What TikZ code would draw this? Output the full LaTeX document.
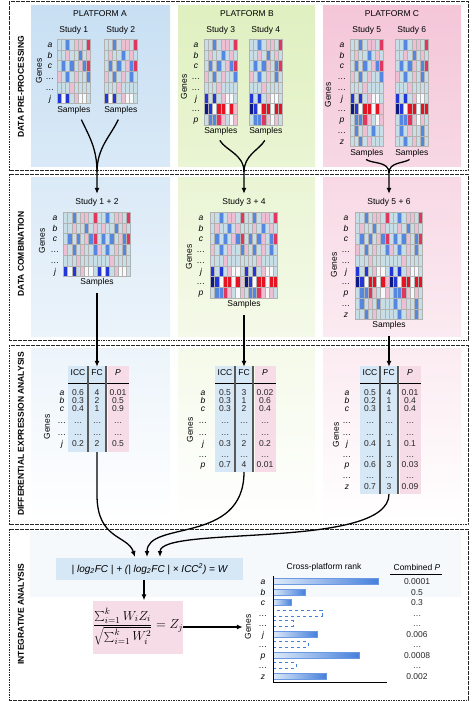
\documentclass[tikz,border=0pt]{standalone}
\usepackage{fix-cm}
\usepackage{fontspec}
\setmainfont{Liberation Sans}
\usetikzlibrary{arrows.meta}

\definecolor{platA}{RGB}{200,223,243}
\definecolor{platB}{RGB}{224,240,192}
\definecolor{platC}{RGB}{244,198,216}
\definecolor{secbg}{RGB}{246,249,252}
\definecolor{hmg}{RGB}{200,222,230}
\definecolor{hmp}{RGB}{238,190,210}
\definecolor{hmw}{RGB}{246,248,250}
\definecolor{hmb}{RGB}{85,135,225}
\definecolor{hmr}{RGB}{225,55,95}
\definecolor{hmB}{RGB}{35,55,215}
\definecolor{hmR}{RGB}{230,20,35}
\definecolor{hmN}{RGB}{15,25,130}
\definecolor{colblue}{RGB}{214,231,246}
\definecolor{colpink}{RGB}{246,220,230}
\definecolor{barblue}{RGB}{70,128,220}
\definecolor{barlight}{RGB}{222,234,248}

% heat map: left x, top y, rows
\newcommand{\hmap}[3]{%
  \foreach \hrow [count=\hr from 0] in #3 {
    \foreach \hc [count=\hk from 0] in \hrow {
      \filldraw[cell,fill=hm\hc] ({#1+\hk*4.2},{#2+\hr*10.75}) rectangle ++(4.2,10.75);
    }
  }
}
% gene letters beside a heat map: name, x, top y, list
\newcommand{\glab}[4]{%
  \foreach \glt [count=\gi from 0] in {#4} {
    \node[gl] (#1\gi) at (#2,{#3+(\gi+0.5)*10.75+3}) {\glt};
  }
}
% table: FC column x, letter x, bottom y, rows, name
\newcommand{\detable}[5]{%
  \fill[colblue] ({#1-29},366) rectangle ({#1+9},#3);
  \fill[colpink] ({#1+11},366) rectangle ({#1+32},#3);
  \node[lbl] (#5icc) at ({#1-19},373) {ICC};
  \node[lbl] (#5fc) at (#1,373) {FC};
  \node[lbl,font=\fontsize{8.5}{10}\selectfont\itshape] (#5p) at ({#1+21},373) {P};
  \draw[line width=0.8pt] ({#1-29},383.5) -- ({#1+32},383.5);
  \draw[colline] ({#1-9},366) -- ({#1-9},#3);
  \draw[colline] ({#1+9},366) -- ({#1+9},#3);
  \coordinate (#5bot) at (#1,#3);
  \foreach \ty/\tg/\ti/\tf/\tp [count=\tn] in {#4} {
    \node[gl] (#5g\tn) at (#2,\ty) {\tg};
    \node[val] (#5i\tn) at ({#1-19},\ty) {\ti};
    \node[val] (#5f\tn) at (#1,\ty) {\tf};
    \node[val] (#5v\tn) at ({#1+21},\ty) {\tp};
  }
}

\begin{document}
\begin{tikzpicture}[
  x=1pt,y=-1pt,
  lbl/.style={font=\fontsize{8.5}{10}\selectfont,inner sep=0pt},
  sect/.style={font=\fontsize{8.5}{10}\selectfont\bfseries,rotate=90,inner sep=0pt},
  genes/.style={lbl,rotate=90},
  gl/.style={lbl,font=\fontsize{8.5}{10}\selectfont\itshape,anchor=base},
  val/.style={lbl,anchor=base,text=black!85},
  cell/.style={draw=black!30,line width=0.3pt},
  secbox/.style={draw=black!85,line width=0.9pt,dash pattern=on 1.6pt off 0.9pt},
  conn/.style={line width=1.3pt},
  arr/.style={conn,-{Latex[length=6pt,width=5pt]}},
  colline/.style={draw=black!65,line width=1.1pt},
  sbar/.style={left color=barlight,right color=barblue,draw=barblue!80,line width=0.3pt},
  dbar/.style={draw=barblue,dashed,line width=0.5pt}
]
  \useasboundingbox (0,0) rectangle (474,701);

  % heat map patterns
  \def\patOne{{g,g,b,g,p,p,g,r},{g,g,p,g,g,b,g,p},{g,b,g,b,g,p,b,r},{p,g,b,g,p,g,g,b},{g,g,g,p,g,g,g,g},{B,w,B,g,p,w,w,g}}
  \def\patTwo{{g,g,b,g,p,p,g,r},{g,p,g,g,b,g,p,g},{g,b,g,b,g,p,b,r},{p,g,b,g,p,g,b,g},{g,g,g,p,g,g,g,g},{B,w,B,g,p,w,w,g}}
  \def\patThree{{g,g,b,g,p,p,g,r},{g,p,g,g,b,g,p,g},{g,b,g,b,g,p,b,r},{p,g,b,g,p,g,g,b},{g,g,g,p,g,g,g,g},{B,g,B,g,p,w,w,g},{N,B,w,R,R,w,R,p},{g,b,b,r,p,g,w,p}}
  \def\patFour{{g,g,b,g,p,p,g,r},{g,g,p,g,b,g,p,g},{g,b,g,b,p,g,b,r},{p,g,b,g,p,g,b,g},{g,g,g,p,g,g,g,g},{B,g,B,g,p,w,w,g},{N,B,w,R,R,w,R,R},{g,b,b,r,p,w,p,g}}
  \def\patFive{{g,g,b,g,p,p,g,r},{g,p,g,g,b,g,p,g},{g,b,g,b,g,p,b,r},{p,g,b,g,p,g,g,b},{g,g,g,p,g,g,g,g},{B,g,B,g,p,w,w,g},{N,B,w,R,R,w,R,p},{g,b,b,r,p,g,w,p},{g,b,g,p,g,b,g,g},{g,g,b,g,p,g,g,g}}
  \def\patSix{{g,g,b,g,p,p,g,r},{g,g,p,g,b,g,p,g},{g,b,g,b,p,g,b,r},{p,g,b,g,p,g,b,g},{g,g,g,p,g,g,g,g},{B,g,B,g,p,w,w,g},{N,B,w,R,R,w,R,R},{g,b,b,r,p,w,p,g},{g,b,g,p,g,g,b,g},{g,g,b,g,p,g,b,g}}
  \def\patOneTwo{{g,g,b,g,p,p,g,r,g,g,b,g,p,p,g,r},{g,g,p,g,g,b,g,p,g,p,g,g,b,g,p,g},{g,b,g,b,g,p,b,r,g,b,g,b,g,p,b,r},{p,g,b,g,p,g,g,b,p,g,b,g,p,g,b,g},{g,g,g,p,g,g,g,g,g,g,g,p,g,g,g,g},{B,w,B,g,p,w,w,g,B,w,B,g,p,w,w,g}}
  \def\patThreeFour{{g,g,b,g,p,p,g,r,g,g,b,g,p,p,g,r},{g,p,g,g,b,g,p,g,g,g,p,g,b,g,p,g},{g,b,g,b,g,p,b,r,g,b,g,b,p,g,b,r},{p,g,b,g,p,g,g,b,p,g,b,g,p,g,b,g},{g,g,g,p,g,g,g,g,g,g,g,p,g,g,g,g},{B,g,B,g,p,w,w,g,B,g,B,g,p,w,w,g},{N,B,w,R,R,w,R,p,N,B,w,R,R,w,R,R},{g,b,b,r,p,g,w,p,g,b,b,r,p,w,p,g}}
  \def\patFiveSix{{g,g,b,g,p,p,g,r,g,g,b,g,p,p,g,r},{g,p,g,g,b,g,p,g,g,g,p,g,b,g,p,g},{g,b,g,b,g,p,b,r,g,b,g,b,p,g,b,r},{p,g,b,g,p,g,g,b,p,g,b,g,p,g,b,g},{g,g,g,p,g,g,g,g,g,g,g,p,g,g,g,g},{B,g,B,g,p,w,w,g,B,g,B,g,p,w,w,g},{N,B,w,R,R,w,R,p,N,B,w,R,R,w,R,R},{g,b,b,r,p,g,w,p,g,b,b,r,p,w,p,g},{g,b,g,p,g,b,g,g,g,b,g,p,g,g,b,g},{g,g,b,g,p,g,g,g,g,g,b,g,p,g,b,g}}

  % platform columns
  \shade[top color=platA,middle color=platA!55,bottom color=white] (31,6) rectangle (170,522);
  \shade[top color=platB,middle color=platB!55,bottom color=white] (178,6) rectangle (315,522);
  \shade[top color=platC,middle color=platC!55,bottom color=white] (323,6) rectangle (461,522);
  \fill[white] (25,167) rectangle (465,177);
  \fill[white] (25,337) rectangle (465,348);
  \fill[secbg] (30,531) rectangle (461,597);

  % sections
  \draw[secbox] (9,1) rectangle (468,170);
  \draw[secbox] (9,174) rectangle (468,340);
  \draw[secbox] (9,345) rectangle (468,524);
  \draw[secbox] (9,529) rectangle (468,700);
  \node[sect] (secPre) at (21,87) {DATA PRE-PROCESSING};
  \node[sect] (secComb) at (21,254) {DATA COMBINATION};
  \node[sect] (secDE) at (21,434) {DIFFERENTIAL EXPRESSION ANALYSIS};
  \node[sect] (secInt) at (21,614) {INTEGRATIVE ANALYSIS};

  \node[lbl] (platA) at (100,14) {PLATFORM A};
  \node[lbl] (platB) at (247,14) {PLATFORM B};
  \node[lbl] (platC) at (392,14) {PLATFORM C};

  % data pre-processing
  \node[lbl] (st1) at (73.8,30) {Study 1};
  \node[lbl] (st2) at (120.8,30) {Study 2};
  \node[lbl] (st3) at (220.8,30) {Study 3};
  \node[lbl] (st4) at (265.8,30) {Study 4};
  \node[lbl] (st5) at (366.8,30) {Study 5};
  \node[lbl] (st6) at (411.8,30) {Study 6};
  \hmap{57}{39}{\patOne}
  \hmap{104}{39}{\patTwo}
  \hmap{204}{39}{\patThree}
  \hmap{249}{39}{\patFour}
  \hmap{350}{39}{\patFive}
  \hmap{395}{39}{\patSix}
  \glab{gpA}{50}{39}{a,b,c,\dots,\dots,j}
  \glab{gpB}{196}{39}{a,b,c,\dots,\dots,j,\dots,p}
  \glab{gpC}{342}{39}{a,b,c,\dots,\dots,j,\dots,p,\dots,z}
  \node[genes] (genPA) at (39,71) {Genes};
  \node[genes] (genPB) at (184,87) {Genes};
  \node[genes] (genPC) at (328,95) {Genes};
  \node[lbl] (smp1) at (73.8,110) {Samples};
  \node[lbl] (smp2) at (120.8,110) {Samples};
  \node[lbl] (smp3) at (220.8,131) {Samples};
  \node[lbl] (smp4) at (265.8,131) {Samples};
  \node[lbl] (smp5) at (366.8,153) {Samples};
  \node[lbl] (smp6) at (411.8,153) {Samples};

  % data combination
  \node[lbl] (st12) at (97,202) {Study 1 + 2};
  \node[lbl] (st34) at (244,202) {Study 3 + 4};
  \node[lbl] (st56) at (389,202) {Study 5 + 6};
  \hmap{63.4}{212}{\patOneTwo}
  \hmap{210.4}{212}{\patThreeFour}
  \hmap{355.4}{212}{\patFiveSix}
  \glab{gcA}{55}{212}{a,b,c,\dots,\dots,j}
  \glab{gcB}{201}{212}{a,b,c,\dots,\dots,j,\dots,p}
  \glab{gcC}{346}{212}{a,b,c,\dots,\dots,j,\dots,p,\dots,z}
  \node[genes] (genCA) at (42,241) {Genes};
  \node[genes] (genCB) at (189,257) {Genes};
  \node[genes] (genCC) at (334,265) {Genes};
  \node[lbl] (smp12) at (97,282) {Samples};
  \node[lbl] (smp34) at (244,304) {Samples};
  \node[lbl] (smp56) at (389,325) {Samples};

  \coordinate (mA) at (97,172);
  \coordinate (mB) at (244,172);
  \coordinate (mC) at (389,173);
  \draw[conn,shorten <=6pt] ([xshift=5pt]smp1.south) to[out=-65,in=90] (mA);
  \draw[arr,shorten <=6pt,shorten >=4pt] (smp2.south) to[out=-115,in=90] (mA) -- (st12.north);
  \draw[conn,shorten <=6pt] ([xshift=-4pt]smp3.south) to[out=-60,in=90] (mB);
  \draw[arr,shorten <=6pt,shorten >=4pt] ([xshift=2pt]smp4.south) to[out=-120,in=90] (mB) -- (st34.north);
  \draw[conn,shorten <=4pt] ([xshift=-4pt]smp5.south) to[out=-35,in=90] (mC);
  \draw[arr,shorten <=4pt,shorten >=4pt] ([xshift=1pt]smp6.south) to[out=-145,in=90] (mC) -- (st56.north);

  % differential expression
  \detable{97}{62}{452}{395/a/0.6/4/0.01, 403/b/0.3/2/0.5, 411/c/0.4/1/0.9, 423/\dots/\dots/\dots/\dots, 435/\dots/\dots/\dots/\dots, 446/j/0.2/2/0.5}{tA}
  \detable{244}{203}{472}{395/a/0.5/3/0.02, 403/b/0.3/1/0.6, 411/c/0.3/2/0.4, 423/\dots/\dots/\dots/\dots, 435/\dots/\dots/\dots/\dots, 446/j/0.3/2/0.2, 457/\dots/\dots/\dots/\dots, 467/p/0.7/4/0.01}{tB}
  \detable{389}{347}{494}{395/a/0.5/4/0.01, 403/b/0.2/1/0.4, 411/c/0.3/1/0.4, 423/\dots/\dots/\dots/\dots, 435/\dots/\dots/\dots/\dots, 446/j/0.4/1/0.1, 457/\dots/\dots/\dots/\dots, 467/p/0.6/3/0.03, 478/\dots/\dots/\dots/\dots, 489/z/0.7/3/0.09}{tC}
  \node[genes] (genDA) at (47,427) {Genes};
  \node[genes] (genDB) at (190,430) {Genes};
  \node[genes] (genDC) at (336,435) {Genes};

  \draw[arr,shorten <=7pt,shorten >=3pt] (smp12.south) -- (tAfc.north);
  \draw[arr,shorten <=7pt,shorten >=3pt] (smp34.south) -- (tBfc.north);
  \draw[arr,shorten <=7pt,shorten >=3pt] (smp56.south) -- (tCfc.north);

  % integrative analysis
  \node[lbl,font=\fontsize{10}{12}\selectfont,fill=colblue,minimum width=187pt,minimum height=22pt] (fw) at (149.5,569)
    {\itshape | log\textsubscript{2}FC | + (| log\textsubscript{2}FC | × ICC\textsuperscript{2}) = W};
  \node[fill=colpink,minimum width=84pt,minimum height=53pt,inner sep=0pt] (fz) at (138,627)
    {\fontsize{13}{15}\selectfont$\displaystyle\frac{\sum_{i=1}^{k}W_iZ_i}{\sqrt{\sum_{i=1}^{k}W_i^2}}=Z_j$};

  \coordinate (wA) at (135,557);
  \coordinate (wB) at (147,557);
  \coordinate (wC) at (160,557);
  \draw[arr] (tAbot) -- (97,495) .. controls (97,540) and (128,535) .. (wA);
  \draw[arr] (tBbot) .. controls (244,545) and (147,520) .. (wB);
  \draw[arr] (tCbot) .. controls (389,550) and (160,525) .. (wC);

  \coordinate (wz) at (144,0);
  \draw[arr] (fw.south -| wz) -- (fz.north -| wz);

  % ranking
  \node[lbl] (rankT) at (324,567) {Cross-platform rank};
  \node[lbl] (combT) at (417,567) {Combined \textit{P}};
  \draw[line width=0.8pt] (390,574.5) -- (442,574.5);
  \foreach \by/\bw in {581/378, 592/305, 602/291, 634/317, 655/359, 676/326}{
    \shade[sbar] (273,\by-2.8) rectangle (\bw,\by+2.8);
  }
  \foreach \by/\bw in {613/322, 623.5/293, 644.5/308, 665.5/296}{
    \draw[dbar] (273,\by-2.8) rectangle (\bw,\by+2.8);
  }
  \foreach \by/\bg/\bp [count=\bn] in {581/a/0.0001, 592/b/0.5, 602/c/0.3, 613/\dots/\dots, 623.5/\dots/\dots, 634/j/0.006, 644.5/\dots/\dots, 655/p/0.0008, 665.5/\dots/\dots, 676/z/0.002}{
    \node[gl] (rk\bn) at (263,\by+3) {\bg};
    \node[val] (cp\bn) at (417,\by+3) {\bp};
  }
  \draw[line width=0.8pt] (273,576) -- (273,682) -- (387,682);
  \node[genes] (genR) at (248,627) {Genes};
  \draw[arr,shorten >=2pt] (fz.east) -- (genR.north);
\end{tikzpicture}
\end{document}
